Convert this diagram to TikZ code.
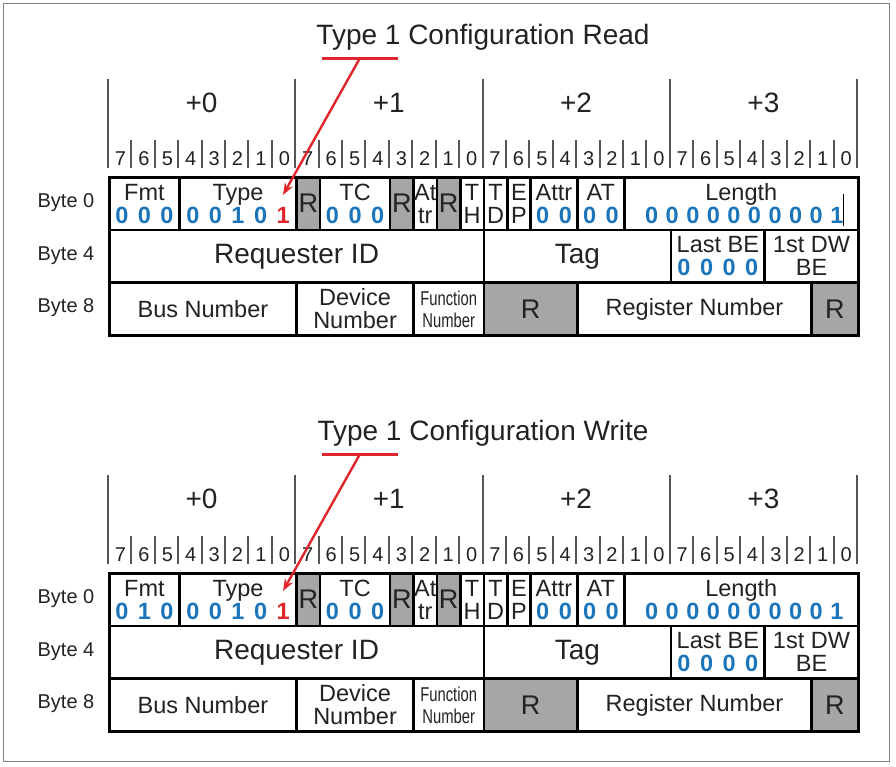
\documentclass[tikz,border=0pt]{standalone}
\usepackage{fontspec}
\setmainfont{Liberation Sans}
\usetikzlibrary{arrows.meta}
\definecolor{bblue}{HTML}{1B75BB}
\definecolor{rred}{HTML}{E0262B}
\definecolor{tick}{HTML}{555555}
\definecolor{txt}{HTML}{222222}
\newcommand\fs[1]{\fontsize{#1}{#1}\selectfont}
\newcommand\dg[1]{{\color{bblue}\bfseries #1}}
\newcommand\G{\hspace{9.5pt}}
\newcommand\Gl{\hspace{7.5pt}}
\begin{document}
\begin{tikzpicture}[x=1pt,y=-1pt,
  cell/.style={draw=black,line width=2.6pt,inner sep=0pt,anchor=north west,align=center,text=txt,font=\fontsize{23.5}{23}\selectfont},
  gcell/.style={cell,fill=black!35},
  tk/.style={draw=tick,line width=2pt},
  bl/.style={text=txt,font=\fs{20}},
  ttl/.style={font=\fs{28},text=txt}]
\useasboundingbox (0,0) rectangle (896,766);
\draw[black!50,line width=0.8pt] (3,3) rectangle (889,761);
\def\bw{23.40625}
\newcommand\C[6]{% name, startbit, nbits, row, style, content
  \pgfmathsetmacro\xx{108+\bw*#2}\pgfmathsetmacro\ww{\bw*#3}%
  \pgfmathsetmacro\yy{\oy+176+52.7*#4}%
  \node[#5,minimum width=\ww pt,minimum height=52.7pt] (#1) at (\xx,\yy) {#6};}
\newcommand\pkt[3]{% offset, prefix, title
 \def\oy{#1}
 \node[ttl] (#2title) at (483,#1+37) {#3};
 \coordinate (#2ua) at (322,#1+58); \coordinate (#2ub) at (398,#1+58);
 \draw[rred,line width=3pt] (#2ua) -- (#2ub);
 \foreach \b in {0,...,3}{
   \draw[tk] (108+187.25*\b,#1+79) -- (108+187.25*\b,#1+168);
   \node[font=\fs{28},text=txt] (#2byte\b) at (108+187.25*\b+93.6,#1+103) {+\b};}
 \draw[tk] (857,#1+79) -- (857,#1+168);
 \foreach \i in {0,...,31}{
   \pgfmathtruncatemacro\n{7-mod(\i,8)}
   \draw[tk] (108+\bw*\i,#1+140) -- (108+\bw*\i,#1+168);
   \node[text=txt,font=\fs{20}] (#2bit\i) at (108+\bw*\i+12.5,#1+159) {\n};}
 \node[bl] (#2b0) at (66,#1+203) {Byte 0};
 \node[bl] (#2b4) at (66,#1+256) {Byte 4};
 \node[bl] (#2b8) at (66,#1+308) {Byte 8};
 \C{#2fmt}{0}{3}{0}{cell}{Fmt\\\dg{\fmtd}}
 \C{#2type}{3}{5}{0}{cell}{Type\\\dg{0\G0\G1\G0\G\textcolor{rred}{1}}}
 \C{#2r1}{8}{1}{0}{gcell}{\fs{27}R}
 \C{#2tc}{9}{3}{0}{cell}{TC\\\dg{0\G0\G0}}
 \C{#2r2}{12}{1}{0}{gcell}{\fs{27}R}
 \C{#2attr}{13}{1}{0}{cell}{At\\tr}
 \C{#2r3}{14}{1}{0}{gcell}{\fs{27}R}
 \C{#2th}{15}{1}{0}{cell}{T\\H}
 \C{#2td}{16}{1}{0}{cell}{T\\D}
 \C{#2ep}{17}{1}{0}{cell}{E\\P}
 \C{#2attr2}{18}{2}{0}{cell}{Attr\\\dg{0\G0}}
 \C{#2at}{20}{2}{0}{cell}{AT\\\dg{0\G0}}
 \C{#2len}{22}{10}{0}{cell}{Length\\\hspace*{6pt}\dg{0\Gl0\Gl0\Gl0\Gl0\Gl0\Gl0\Gl0\Gl0\Gl1}}
 \C{#2req}{0}{16}{1}{cell}{\fs{28}Requester ID}
 \C{#2tag}{16}{8}{1}{cell}{\fs{28}Tag}
 \C{#2lbe}{24}{4}{1}{cell}{Last BE\\\dg{0\G0\G0\G0}}
 \C{#2fbe}{28}{4}{1}{cell}{1st DW\\BE}
 \C{#2bus}{0}{8}{2}{cell}{Bus Number}
 \C{#2dev}{8}{5}{2}{cell}{Device\\Number}
 \C{#2fn}{13}{3}{2}{cell}{\scalebox{0.74}[1]{\fs{20}Function}\\[-1pt]\scalebox{0.74}[1]{\fs{20}Number}}
 \C{#2r4}{16}{4}{2}{gcell}{\fs{27}R}
 \C{#2reg}{20}{10}{2}{cell}{Register Number}
 \C{#2r5}{30}{2}{2}{gcell}{\fs{27}R}
 \coordinate (#2as) at (360,#1+58);
 \coordinate (#2ae) at (283,#1+195);
 \draw[rred,line width=2.4pt,-{Stealth[length=12pt,width=9pt]}] (#2as) -- (#2ae);
}
\def\fmtd{0\G0\G0}
\pkt{0}{r}{Type 1 Configuration Read}
\coordinate (cur1) at (843,194); \coordinate (cur2) at (843,226);
\draw[black,line width=0.6pt] (cur1) -- (cur2);
\def\fmtd{0\G1\G0}
\pkt{396}{w}{Type 1 Configuration Write}
\end{tikzpicture}
\end{document}
